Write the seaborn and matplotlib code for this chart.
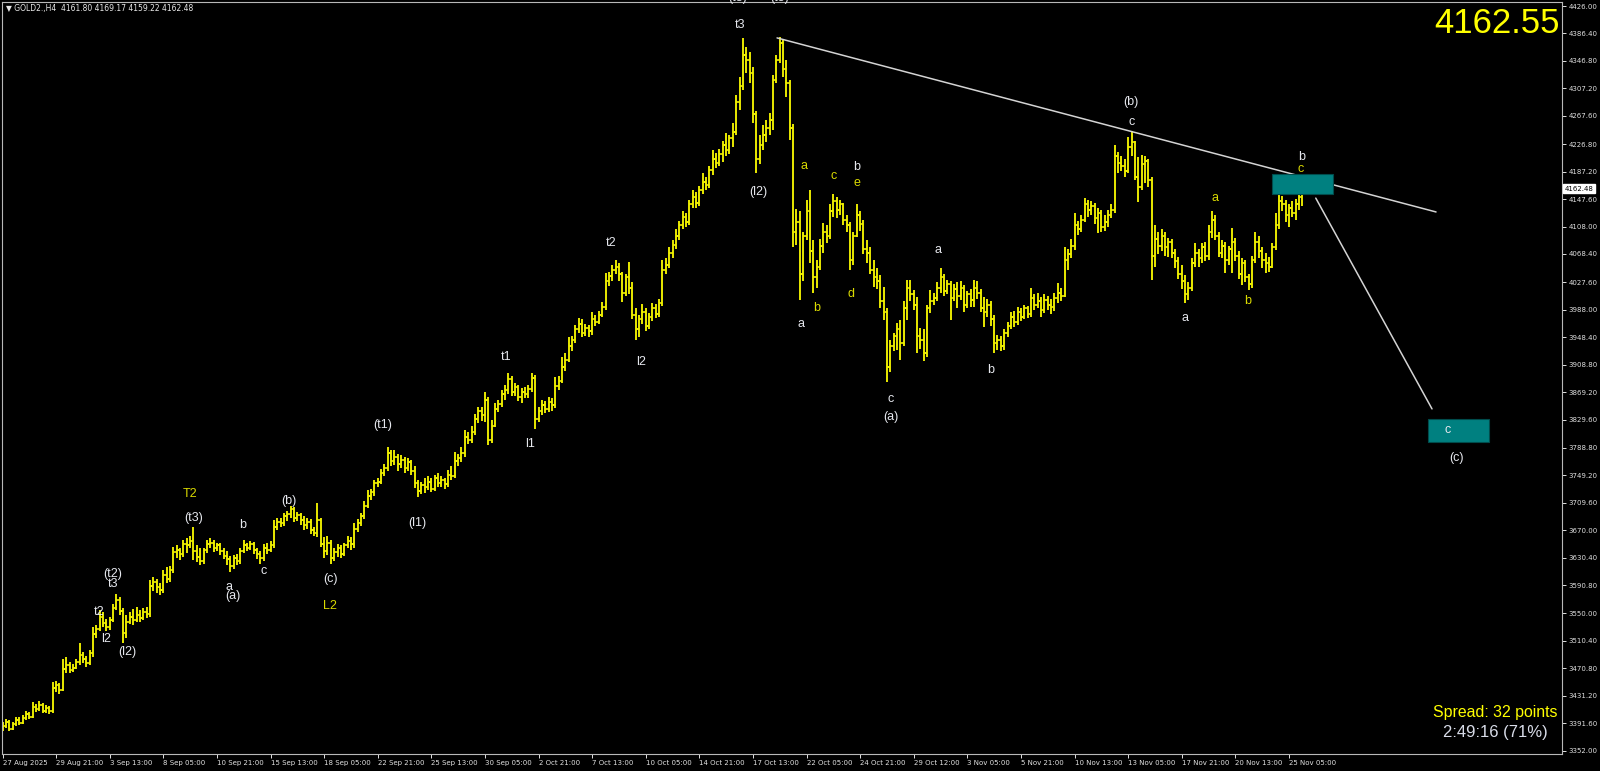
"""GOLD2 H4 bar chart with Elliott wave labels, MT4 style (black background)."""

import numpy as np
import pandas as pd
import matplotlib
matplotlib.use("Agg")
import matplotlib.pyplot as plt
import matplotlib.transforms as mtransforms
from matplotlib.patches import Rectangle
import seaborn as sns

sns.set_theme(style="dark", rc={"axes.facecolor": "black", "figure.facecolor": "black"})
plt.rcParams["font.family"] = ["Liberation Sans", "DejaVu Sans"]

BAR_COLOR = "#f2f200"
WHITE_LBL = "#e6e8ee"
YELLOW_LBL = "#dada00"
AXIS_TXT = "#e0e0e0"
FRAME = "#b8b8b8"

# ── H4 bars, 27 Aug 2025 .. 26 Nov 2025 ─────────────────────────
bar_open = [
    3385, 3388, 3393, 3384, 3390, 3397, 3392, 3399, 3405, 3401,
    3415, 3412, 3418, 3410, 3414, 3409, 3442, 3447, 3440, 3470,
    3476, 3468, 3472, 3480, 3490, 3484, 3478, 3493, 3520, 3528,
    3545, 3536, 3530, 3541, 3558, 3570, 3553, 3522, 3538, 3545,
    3540, 3548, 3544, 3552, 3549, 3590, 3596, 3588, 3584, 3606,
    3600, 3612, 3638, 3641, 3636, 3650, 3648, 3655, 3640, 3632,
    3626, 3641, 3650, 3652, 3645, 3648, 3640, 3633, 3628, 3618,
    3630, 3626, 3640, 3648, 3645, 3650, 3641, 3636, 3630, 3645,
    3642, 3648, 3675, 3682, 3680, 3690, 3693, 3700, 3688, 3692,
    3685, 3678, 3682, 3670, 3666, 3685, 3650, 3640, 3652, 3630,
    3638, 3644, 3636, 3648, 3655, 3650, 3672, 3680, 3690, 3705,
    3720, 3725, 3738, 3740, 3752, 3760, 3782, 3770, 3775, 3765,
    3772, 3760, 3768, 3755, 3738, 3726, 3735, 3732, 3740, 3730,
    3745, 3738, 3742, 3736, 3750, 3748, 3770, 3774, 3781, 3805,
    3800, 3812, 3830, 3842, 3836, 3858, 3800, 3820, 3845, 3852,
    3866, 3872, 3888, 3870, 3876, 3862, 3870, 3866, 3874, 3890,
    3830, 3842, 3850, 3845, 3855, 3850, 3878, 3885, 3905, 3915,
    3935, 3944, 3960, 3968, 3955, 3962, 3958, 3975, 3970, 3980,
    3992, 4030, 4036, 4045, 4050, 4040, 4012, 4035, 4020, 3980,
    3960, 3975, 3985, 3965, 3978, 3990, 3982, 3998, 4045, 4052,
    4070, 4082, 4095, 4110, 4122, 4115, 4140, 4150, 4142, 4160,
    4172, 4168, 4190, 4205, 4200, 4212, 4225, 4218, 4235, 4245,
    4288, 4310, 4355, 4348, 4330, 4270, 4205, 4225, 4240, 4250,
    4262, 4320, 4348, 4372, 4335, 4315, 4250, 4100, 4115, 4040,
    4095, 4130, 4072, 4035, 4050, 4080, 4100, 4095, 4130, 4145,
    4132, 4140, 4118, 4110, 4060, 4095, 4125, 4112, 4075, 4070,
    4045, 4035, 4030, 4000, 3985, 3905, 3935, 3950, 3960, 3940,
    3990, 4020, 4010, 3995, 3950, 3945, 3925, 3990, 4000, 4005,
    4020, 4035, 4015, 4025, 4005, 4018, 4008, 4020, 3995, 4010,
    4002, 4020, 4012, 3990, 3985, 3995, 3975, 3940, 3945, 3935,
    3955, 3965, 3978, 3970, 3985, 3978, 3990, 3982, 4005, 3995,
    4000, 3988, 4002, 3995, 3992, 4005, 4012, 4008, 4060, 4068,
    4080, 4110, 4105, 4118, 4140, 4132, 4138, 4120, 4128, 4108,
    4115, 4125, 4132, 4210, 4200, 4195, 4188, 4222, 4230, 4180,
    4165, 4198, 4202, 4175, 4065, 4090, 4080, 4095, 4078, 4085,
    4070, 4058, 4040, 4030, 4010, 4020, 4055, 4070, 4062, 4078,
    4065, 4100, 4118, 4095, 4070, 4080, 4060, 4075, 4085, 4065,
    4040, 4055, 4035, 4025, 4060, 4085, 4072, 4060, 4055, 4050,
    4078, 4110, 4145, 4140, 4125, 4135, 4128, 4140, 4150, 4161.80,
]
bar_high = [
    3394, 3398, 3396, 3393, 3401, 3400, 3403, 3410, 3408, 3422,
    3420, 3424, 3421, 3418, 3417, 3451, 3452, 3450, 3484, 3487,
    3480, 3477, 3484, 3508, 3495, 3488, 3497, 3531, 3534, 3555,
    3552, 3542, 3545, 3563, 3578, 3574, 3558, 3548, 3552, 3556,
    3560, 3555, 3558, 3560, 3598, 3602, 3600, 3594, 3612, 3617,
    3618, 3646, 3648, 3645, 3656, 3659, 3662, 3675, 3648, 3645,
    3645, 3656, 3659, 3656, 3652, 3652, 3645, 3640, 3633, 3634,
    3636, 3645, 3656, 3652, 3654, 3653, 3645, 3640, 3650, 3652,
    3655, 3685, 3688, 3688, 3695, 3698, 3705, 3703, 3697, 3695,
    3690, 3688, 3686, 3675, 3709, 3688, 3660, 3662, 3656, 3645,
    3650, 3648, 3652, 3661, 3660, 3681, 3686, 3695, 3712, 3728,
    3730, 3743, 3746, 3758, 3766, 3790, 3786, 3785, 3780, 3778,
    3776, 3774, 3772, 3762, 3742, 3740, 3745, 3748, 3746, 3750,
    3752, 3748, 3745, 3757, 3762, 3783, 3780, 3790, 3815, 3812,
    3820, 3838, 3848, 3848, 3870, 3862, 3829, 3853, 3858, 3872,
    3880, 3897, 3892, 3883, 3880, 3875, 3876, 3880, 3897, 3894,
    3848, 3858, 3856, 3862, 3860, 3891, 3892, 3920, 3925, 3949,
    3950, 3966, 3976, 3974, 3968, 3966, 3985, 3981, 3986, 3999,
    4041, 4042, 4052, 4060, 4055, 4043, 4040, 4057, 4028, 3990,
    3980, 3996, 3990, 3984, 3998, 3996, 4004, 4060, 4062, 4079,
    4089, 4104, 4116, 4130, 4128, 4146, 4160, 4158, 4166, 4185,
    4180, 4196, 4218, 4214, 4220, 4232, 4243, 4240, 4257, 4298,
    4324, 4380, 4367, 4360, 4338, 4275, 4240, 4254, 4262, 4272,
    4327, 4355, 4381, 4378, 4348, 4320, 4256, 4133, 4130, 4100,
    4146, 4161, 4089, 4060, 4090, 4113, 4110, 4140, 4155, 4150,
    4146, 4142, 4125, 4114, 4100, 4140, 4130, 4118, 4089, 4078,
    4060, 4048, 4038, 4021, 3990, 3945, 3955, 3969, 3973, 4000,
    4031, 4031, 4016, 4007, 3962, 3960, 3995, 4017, 4012, 4028,
    4048, 4040, 4031, 4030, 4025, 4028, 4030, 4024, 4015, 4018,
    4031, 4030, 4018, 4007, 4004, 4000, 3980, 3952, 3950, 3960,
    3970, 3985, 3986, 3992, 3990, 3995, 3994, 4019, 4010, 4012,
    4006, 4010, 4008, 4004, 4012, 4027, 4020, 4079, 4075, 4090,
    4128, 4116, 4125, 4149, 4146, 4145, 4142, 4135, 4132, 4125,
    4132, 4140, 4226, 4215, 4210, 4205, 4237, 4246, 4232, 4208,
    4211, 4210, 4206, 4180, 4110, 4100, 4105, 4100, 4092, 4090,
    4075, 4064, 4052, 4038, 4028, 4062, 4084, 4076, 4084, 4085,
    4110, 4131, 4124, 4100, 4089, 4086, 4080, 4106, 4092, 4072,
    4062, 4060, 4040, 4066, 4100, 4095, 4079, 4070, 4064, 4084,
    4128, 4156, 4152, 4146, 4140, 4145, 4148, 4154, 4168, 4169.17,
]
bar_low = [
    3380, 3385, 3381, 3382, 3388, 3389, 3390, 3397, 3398, 3399,
    3408, 3409, 3406, 3407, 3405, 3407, 3436, 3434, 3438, 3464,
    3464, 3465, 3470, 3476, 3479, 3473, 3475, 3487, 3515, 3524,
    3530, 3524, 3526, 3538, 3555, 3548, 3508, 3515, 3535, 3534,
    3537, 3538, 3540, 3543, 3545, 3582, 3580, 3576, 3580, 3594,
    3596, 3608, 3630, 3627, 3632, 3637, 3644, 3627, 3624, 3620,
    3622, 3637, 3644, 3639, 3640, 3635, 3628, 3620, 3610, 3614,
    3620, 3622, 3637, 3640, 3641, 3636, 3628, 3622, 3626, 3636,
    3638, 3645, 3670, 3674, 3676, 3684, 3688, 3682, 3683, 3678,
    3670, 3672, 3664, 3661, 3660, 3646, 3630, 3634, 3622, 3626,
    3632, 3630, 3633, 3644, 3642, 3645, 3668, 3676, 3686, 3702,
    3714, 3720, 3733, 3736, 3748, 3756, 3762, 3764, 3756, 3760,
    3753, 3755, 3750, 3731, 3718, 3722, 3724, 3728, 3725, 3726,
    3732, 3733, 3730, 3733, 3742, 3745, 3762, 3768, 3776, 3795,
    3796, 3808, 3825, 3828, 3826, 3793, 3796, 3819, 3840, 3848,
    3858, 3866, 3864, 3864, 3856, 3853, 3860, 3860, 3870, 3816,
    3826, 3836, 3839, 3840, 3842, 3846, 3872, 3883, 3900, 3912,
    3928, 3940, 3955, 3948, 3950, 3949, 3952, 3964, 3968, 3978,
    3988, 4022, 4030, 4040, 4030, 3999, 4008, 4010, 3974, 3944,
    3949, 3968, 3958, 3960, 3972, 3976, 3978, 3994, 4040, 4048,
    4062, 4076, 4089, 4104, 4108, 4110, 4134, 4135, 4138, 4155,
    4160, 4163, 4182, 4192, 4196, 4201, 4210, 4212, 4223, 4240,
    4276, 4305, 4330, 4315, 4257, 4185, 4198, 4218, 4230, 4240,
    4247, 4315, 4344, 4324, 4295, 4233, 4079, 4082, 4002, 4030,
    4089, 4056, 4012, 4020, 4045, 4070, 4084, 4090, 4122, 4120,
    4125, 4110, 4100, 4046, 4052, 4093, 4102, 4068, 4056, 4040,
    4021, 4018, 3990, 3973, 3884, 3898, 3928, 3930, 3915, 3936,
    3973, 4000, 3988, 3926, 3932, 3914, 3920, 3983, 3995, 4000,
    4012, 4008, 4010, 3973, 4000, 3990, 4002, 3985, 3990, 3992,
    3992, 4004, 3985, 3963, 3978, 3965, 3925, 3930, 3928, 3930,
    3948, 3960, 3963, 3966, 3972, 3975, 3976, 3978, 3988, 3990,
    3978, 3983, 3988, 3982, 3986, 3998, 4000, 4006, 4046, 4062,
    4074, 4096, 4100, 4115, 4122, 4125, 4112, 4099, 4100, 4102,
    4108, 4120, 4128, 4185, 4188, 4180, 4185, 4210, 4175, 4143,
    4160, 4171, 4165, 4031, 4050, 4068, 4072, 4065, 4064, 4062,
    4048, 4032, 4018, 3998, 4002, 4015, 4050, 4050, 4056, 4058,
    4060, 4092, 4088, 4064, 4062, 4041, 4052, 4041, 4058, 4032,
    4024, 4028, 4016, 4020, 4055, 4062, 4048, 4041, 4042, 4048,
    4074, 4105, 4130, 4115, 4107, 4122, 4118, 4132, 4138, 4159.22,
]
bar_close = [
    3388, 3393, 3384, 3390, 3397, 3392, 3399, 3405, 3401, 3415,
    3412, 3418, 3410, 3414, 3409, 3442, 3447, 3440, 3470, 3476,
    3468, 3472, 3480, 3490, 3484, 3478, 3493, 3520, 3528, 3545,
    3536, 3530, 3541, 3558, 3570, 3553, 3522, 3538, 3545, 3540,
    3548, 3544, 3552, 3549, 3590, 3596, 3588, 3584, 3606, 3600,
    3612, 3638, 3641, 3636, 3650, 3648, 3655, 3640, 3632, 3626,
    3641, 3650, 3652, 3645, 3648, 3640, 3633, 3628, 3618, 3630,
    3626, 3640, 3648, 3645, 3650, 3641, 3636, 3630, 3645, 3642,
    3648, 3675, 3682, 3680, 3690, 3693, 3700, 3688, 3692, 3685,
    3678, 3682, 3670, 3666, 3685, 3650, 3640, 3652, 3630, 3638,
    3644, 3636, 3648, 3655, 3650, 3672, 3680, 3690, 3705, 3720,
    3725, 3738, 3740, 3752, 3760, 3782, 3770, 3775, 3765, 3772,
    3760, 3768, 3755, 3738, 3726, 3735, 3732, 3740, 3730, 3745,
    3738, 3742, 3736, 3750, 3748, 3770, 3774, 3781, 3805, 3800,
    3812, 3830, 3842, 3836, 3858, 3800, 3820, 3845, 3852, 3866,
    3872, 3888, 3870, 3876, 3862, 3870, 3866, 3874, 3890, 3830,
    3842, 3850, 3845, 3855, 3850, 3878, 3885, 3905, 3915, 3935,
    3944, 3960, 3968, 3955, 3962, 3958, 3975, 3970, 3980, 3992,
    4030, 4036, 4045, 4050, 4040, 4012, 4035, 4020, 3980, 3960,
    3975, 3985, 3965, 3978, 3990, 3982, 3998, 4045, 4052, 4070,
    4082, 4095, 4110, 4122, 4115, 4140, 4150, 4142, 4160, 4172,
    4168, 4190, 4205, 4200, 4212, 4225, 4218, 4235, 4245, 4288,
    4310, 4355, 4348, 4330, 4270, 4205, 4225, 4240, 4250, 4262,
    4320, 4348, 4372, 4335, 4315, 4250, 4100, 4115, 4040, 4095,
    4130, 4072, 4035, 4050, 4080, 4100, 4095, 4130, 4145, 4132,
    4140, 4118, 4110, 4060, 4095, 4125, 4112, 4075, 4070, 4045,
    4035, 4030, 4000, 3985, 3905, 3935, 3950, 3960, 3940, 3990,
    4020, 4010, 3995, 3950, 3945, 3925, 3990, 4000, 4005, 4020,
    4035, 4015, 4025, 4005, 4018, 4008, 4020, 3995, 4010, 4002,
    4020, 4012, 3990, 3985, 3995, 3975, 3940, 3945, 3935, 3955,
    3965, 3978, 3970, 3985, 3978, 3990, 3982, 4005, 3995, 4000,
    3988, 4002, 3995, 3992, 4005, 4012, 4008, 4060, 4068, 4080,
    4110, 4105, 4118, 4140, 4132, 4138, 4120, 4128, 4108, 4115,
    4125, 4132, 4210, 4200, 4195, 4188, 4222, 4230, 4180, 4165,
    4198, 4202, 4175, 4065, 4090, 4080, 4095, 4078, 4085, 4070,
    4058, 4040, 4030, 4010, 4020, 4055, 4070, 4062, 4078, 4065,
    4100, 4118, 4095, 4070, 4080, 4060, 4075, 4085, 4065, 4040,
    4055, 4035, 4025, 4060, 4085, 4072, 4060, 4055, 4050, 4078,
    4110, 4145, 4140, 4125, 4135, 4128, 4140, 4150, 4161.80, 4162.48,
]

# ── axes ticks ───────────────────────────────────────────────────
date_bar = [0, 16, 32, 48, 64, 80, 96, 112, 128, 144, 160, 176, 192,
            208, 224, 240, 256, 272, 288, 304, 320, 336, 352, 368, 384]
date_labels = ["27 Aug 2025", "29 Aug 21:00", "3 Sep 13:00", "8 Sep 05:00",
               "10 Sep 21:00", "15 Sep 13:00", "18 Sep 05:00", "22 Sep 21:00",
               "25 Sep 13:00", "30 Sep 05:00", "2 Oct 21:00", "7 Oct 13:00",
               "10 Oct 05:00", "14 Oct 21:00", "17 Oct 13:00", "22 Oct 05:00",
               "24 Oct 21:00", "29 Oct 12:00", "3 Nov 05:00", "5 Nov 21:00",
               "10 Nov 13:00", "13 Nov 05:00", "17 Nov 21:00", "20 Nov 13:00",
               "25 Nov 05:00"]
price_ticks = [4426.00, 4386.40, 4346.80, 4307.20, 4267.60, 4226.80, 4187.20,
               4147.60, 4108.00, 4068.40, 4027.60, 3988.00, 3948.40, 3908.80,
               3869.20, 3829.60, 3788.80, 3749.20, 3709.60, 3670.00, 3630.40,
               3590.80, 3550.00, 3510.40, 3470.80, 3431.20, 3391.60, 3352.00]

# ── drawn objects: trend line, projection, target boxes ──────────
trend_bar = [231.2, 427.9]
trend_price = [4380, 4129]
proj_bar = [392.0, 426.7]
proj_price = [4149, 3845]
box_bar = [(379.0, 397.0), (425.5, 443.7)]
box_price = [(4155, 4184), (3797, 3831)]

# ── wave labels ──────────────────────────────────────────────────
wave_text = ["T2", "(t3)", "b", "(b)", "c", "a", "(a)", "(c)", "L2",
             "(t2)", "t3", "t2", "l2", "(l2)",
             "(t1)", "(l1)", "t1", "l1", "t2", "l2",
             "t3", "(l2)", "(t3)", "(t5)",
             "a", "c", "b", "e", "b", "a", "d", "a", "c", "(a)", "b",
             "(b)", "c", "a", "a", "b", "b", "c", "c", "(c)"]
wave_bar = [56.0, 56.9, 71.8, 85.5, 77.8, 67.6, 68.8, 97.8, 97.8,
            33.0, 33.0, 28.8, 30.9, 37.2,
            113.6, 123.7, 150.3, 157.5, 181.6, 190.6,
            220.1, 225.5, 219.3, 232.1,
            239.3, 248.2, 255.1, 255.1, 243.1, 238.4, 253.3, 279.3, 265.2, 265.2, 295.1,
            336.9, 336.9, 361.9, 353.0, 371.8, 387.9, 387.6, 431.5, 433.9]
wave_price = [3722, 3688, 3678, 3712, 3611, 3588, 3575, 3600, 3561,
              3607, 3593, 3552, 3513, 3495,
              3822, 3681, 3920, 3795, 4084, 3913,
              4399, 4158, 4437, 4437,
              4195, 4181, 4194, 4171, 3991, 3968, 4011, 4074, 3859, 3833, 3901,
              4288, 4259, 4149, 3976, 4001, 4208, 4191, 3815, 3774]
wave_color = ["y", "w", "w", "w", "w", "w", "w", "w", "y",
              "w", "w", "w", "w", "w",
              "w", "w", "w", "w", "w", "w",
              "w", "w", "w", "w",
              "y", "y", "w", "y", "y", "w", "y", "w", "w", "w", "w",
              "w", "w", "y", "w", "y", "w", "y", "w", "w"]

W, H = 1600, 771
fig = plt.figure(figsize=(16, 7.71), dpi=100)
fig.patch.set_facecolor("black")
ax = fig.add_axes([2 / W, 17 / H, 1560 / W, 752 / H])
ax.set_facecolor("black")

# ── OHLC bars ────────────────────────────────────────────────────
idx = np.arange(len(bar_close))
ax.vlines(idx, bar_low, bar_high, color=BAR_COLOR, lw=1.35)
ax.hlines(bar_open, idx - 0.55, idx, color=BAR_COLOR, lw=1.2)
ax.hlines(bar_close, idx, idx + 0.55, color=BAR_COLOR, lw=1.2)

# ── trend line and projection ────────────────────────────────────
for xs, ys in [(trend_bar, trend_price), (proj_bar, proj_price)]:
    line_df = pd.DataFrame({"bar": xs, "price": ys})
    sns.lineplot(data=line_df, x="bar", y="price", ax=ax, color="#d4d4d4",
                 lw=1.1, sort=False, estimator=None)

for (x0, x1), (p0, p1) in zip(box_bar, box_price):
    ax.add_patch(Rectangle((x0, p0), x1 - x0, p1 - p0, facecolor="#008080",
                           edgecolor="#004c4c", lw=0.8, zorder=3))

for t, xb, pr, c in zip(wave_text, wave_bar, wave_price, wave_color):
    ax.text(xb, pr, t, ha="center", va="center", fontsize=9,
            color=YELLOW_LBL if c == "y" else WHITE_LBL, zorder=5)

# ── axes styling ─────────────────────────────────────────────────
ax.set_xlim(-0.15, 465.5)
ax.set_ylim(3347.3, 4431.8)
ax.set_xlabel("")
ax.set_ylabel("")
ax.grid(False)
ax.yaxis.tick_right()
ax.set_yticks(price_ticks)
ax.set_yticklabels([f"{v:.2f}" for v in price_ticks])
ax.set_xticks(date_bar)
ax.set_xticklabels(date_labels)
for lab in ax.get_xticklabels():
    lab.set_ha("left")
ax.tick_params(axis="both", colors=AXIS_TXT, labelsize=5, length=3, width=0.7,
               direction="out", pad=1.5, labelfontfamily="DejaVu Sans")
ax.tick_params(axis="x", bottom=True)
ax.tick_params(axis="y", right=True, left=False)
for sp in ax.spines.values():
    sp.set_visible(True)
    sp.set_color(FRAME)
    sp.set_linewidth(0.8)

# current price tag on the price axis
tag_tr = mtransforms.blended_transform_factory(ax.transAxes, ax.transData)
ax.text(1.0018, 4162.48, "4162.48", transform=tag_tr, ha="left", va="center",
        fontsize=5, color="black", family="DejaVu Sans",
        bbox=dict(boxstyle="square,pad=0.2", facecolor="white", edgecolor="white"))

# ── overlay texts ────────────────────────────────────────────────
fig.text(6 / W, 1 - 9 / H, "\u25bc GOLD2.,H4  4161.80 4169.17 4159.22 4162.48",
         ha="left", va="center", fontsize=5.5, color="#e8e8e8", family="DejaVu Sans")
fig.text(1560 / W, 1 - 33 / H, "4162.55", ha="right", va="baseline",
         fontsize=25, color="#ffff00")
fig.text(1495 / W, 1 - 717 / H, "Spread: 32 points", ha="center", va="baseline",
         fontsize=11.4, color="#ffff00")
fig.text(1495 / W, 1 - 737 / H, "2:49:16 (71%)", ha="center", va="baseline",
         fontsize=12, color="#d8dce8")

plt.savefig("out.png", dpi=100, facecolor="black")
plt.close()
